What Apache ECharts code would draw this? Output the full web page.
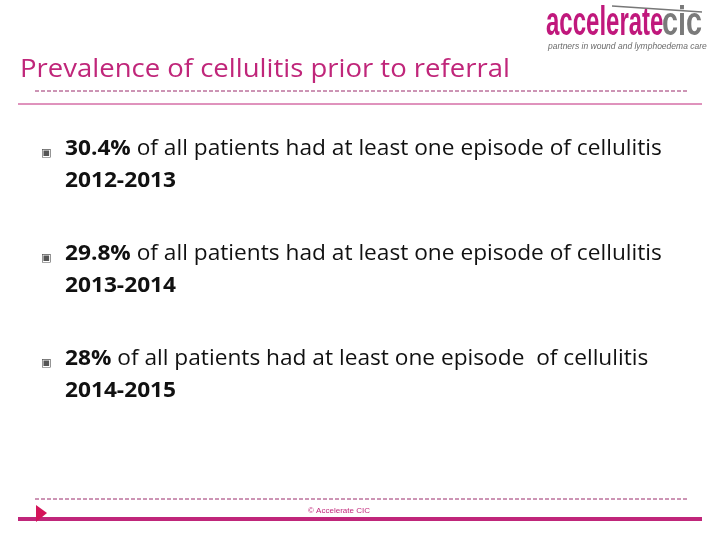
<!DOCTYPE html>
<html><head><meta charset="utf-8">
<script src="https://cdn.jsdelivr.net/npm/echarts@6/dist/echarts.min.js"></script>
<style>html,body{margin:0;padding:0;background:#fff}#c{width:720px;height:540px}</style>
</head><body><div id="c"></div>
<script>
const title = 'Prevalence of cellulitis prior to referral';
const percents = ['30.4%', '29.8%', '28%'];
const periods = ['2012-2013', '2013-2014', '2014-2015'];
const phrases = [' of all patients had at least one episode of cellulitis', ' of all patients had at least one episode of cellulitis', ' of all patients had at least one episode  of cellulitis'];
const footer = '© Accelerate CIC';

const chart = echarts.init(document.getElementById('c'));
const F = '"Open Sans", sans-serif';
const els = [];
els.push({type:'text', x:20, y:57, scaleX:1.1, style:{text:title, font:'25px '+F, fill:'#c0267a'}});
els.push({type:'line', shape:{x1:35,y1:91,x2:688,y2:91}, style:{stroke:'#9a2a6a', lineWidth:1, lineDash:[4,2]}});
els.push({type:'line', shape:{x1:18,y1:104,x2:702,y2:104}, style:{stroke:'#c0267a', lineWidth:1}});
els.push({type:'text', x:546, y:4, scaleX:0.6, style:{text:'accelerate', font:'bold 40px Arial, sans-serif', fill:'#c0187c'}});
els.push({type:'text', x:662, y:4, scaleX:0.72, style:{text:'cic', font:'bold 40px Arial, sans-serif', fill:'#7a7a7a'}});
els.push({type:'line', shape:{x1:612,y1:6,x2:702,y2:12}, style:{stroke:'#777', lineWidth:1.5}});
els.push({type:'text', x:548, y:42, style:{text:'partners in wound and lymphoedema care', font:'italic 8.5px Arial, sans-serif', fill:'#6a6a6a'}});
const tops = [139, 244, 349];
percents.forEach((p,i)=>{
  els.push({type:'text', x:41, y:tops[i]+9, style:{text:'\u25A3', font:'11px "DejaVu Sans"', fill:'#555'}});
  els.push({type:'text', x:65, y:tops[i], scaleX:1.08, style:{rich:{b:{font:'bold 21px '+F, fill:'#111'}, n:{font:'21px '+F, fill:'#111'}}, text:'{b|'+p+'}{n|'+phrases[i]+'}'}});
  els.push({type:'text', x:65, y:tops[i]+32, scaleX:1.08, style:{text:periods[i], font:'bold 21px '+F, fill:'#111'}});
});
els.push({type:'line', shape:{x1:35,y1:499,x2:688,y2:499}, style:{stroke:'#9a2a6a', lineWidth:1, lineDash:[4,2]}});
els.push({type:'rect', shape:{x:18,y:517,width:684,height:4}, style:{fill:'#c0267a'}});
els.push({type:'polygon', shape:{points:[[36,505],[47,513],[36,522]]}, style:{fill:'#d4145a'}});
els.push({type:'text', x:308, y:507, style:{text:footer, font:'8px Arial, sans-serif', fill:'#c0267a'}});
chart.setOption({animation:false, graphic:els});
</script></body></html>
